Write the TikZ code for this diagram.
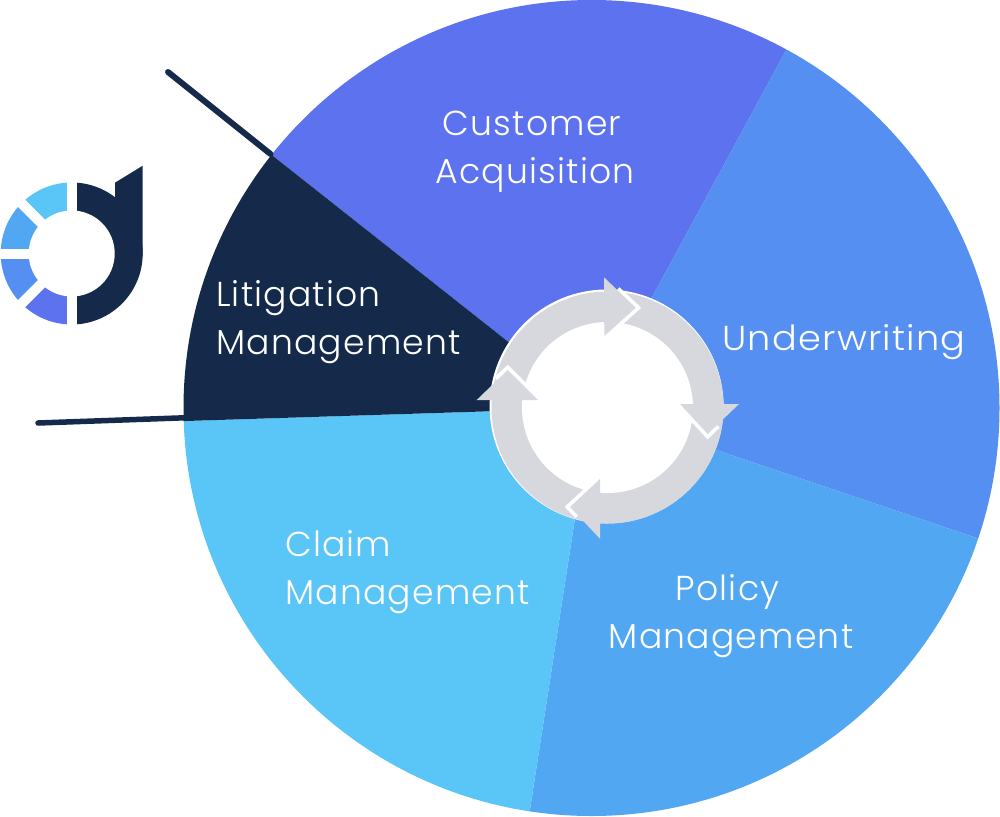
\documentclass[tikz,border=0pt]{standalone}
\usepackage{fontspec}
\newfontfamily\labfont[LetterSpace=3.5]{Poppins Light}
\definecolor{cA}{HTML}{5D72EE}
\definecolor{cB}{HTML}{548FF1}
\definecolor{cC}{HTML}{52A7F2}
\definecolor{cD}{HTML}{5AC5F7}
\definecolor{cE}{HTML}{152A4B}
\definecolor{ringc}{HTML}{D7D8DD}
\tikzset{
  lab/.style={text=white,font=\labfont\fontsize{34.6}{48}\selectfont,inner sep=0pt,align=center},
  labl/.style={lab,align=left,anchor=west},
  spoke/.style={cE,line width=6pt,line cap=round},
  tipline/.style={white,line width=7.5pt,line join=miter},
  gap/.style={white,line width=10pt}
}
\begin{document}
\begin{tikzpicture}[x=1pt,y=-1pt]
\useasboundingbox (0,0) rectangle (1000,816);
\fill[white] (0,0) rectangle (1000,816);
% coordinates
\coordinate (hub) at (592,408);
\coordinate (ea) at (150,58.8);
\coordinate (eb) at (835,-40);
\coordinate (ec) at (1100,579.6);
\coordinate (ed) at (516,900);
\coordinate (ee) at (80,424.4);
% pie
\begin{scope}
\clip (591.5,408) circle[radius=408];
\fill[cA] (hub) -- (ea) -- (-100,-100) -- (1100,-100) -- (eb) -- cycle;
\fill[cB] (hub) -- (eb) -- (1100,-100) -- (1100,900) -- (ec) -- cycle;
\fill[cC] (hub) -- (ec) -- (1100,900) -- (ed) -- cycle;
\fill[cD] (hub) -- (ed) -- (-100,900) -- (ee) -- cycle;
\fill[cE] (hub) -- (ee) -- (-100,424.4) -- (-100,-100) -- (ea) -- cycle;
\end{scope}
% spokes
\coordinate (sa) at (168,72);
\coordinate (sa2) at (270.5,154);
\coordinate (sb) at (38,423);
\coordinate (sb2) at (184,417.8);
\draw[spoke] (sa) -- (sa2);
\draw[spoke,line width=5.5pt] (sb) -- (sb2);
% ring
\fill[white] (606.6,406.5) circle[radius=117];
\fill[ringc] (607.5,407.5) circle[radius=116];
\fill[white] (607.5,407.5) circle[radius=85.5];
% arrow heads
\draw[tipline] (617,290) -- (635.7,307.7) -- (604.3,336);
\draw[tipline] (717,425) -- (707.7,434) -- (680,404);
\draw[tipline] (578,515.5) -- (570,507) -- (600,479);
\draw[tipline] (497,380) -- (507.7,370) -- (538,400);
\fill[ringc] (604,277.3) -- (635.7,307.7) -- (604.3,336) -- cycle;
\fill[ringc] (739,404) -- (707.7,434) -- (680,404) -- cycle;
\fill[ringc] (600,479) -- (570,507) -- (600,538.7) -- cycle;
\fill[ringc] (507.7,370) -- (476.7,400) -- (538,400) -- cycle;
% labels
\node[lab] (n1) at (535,151.5) {\hspace*{-6pt}Customer\\Acquisition};
\node[lab,xscale=1.06,transform shape] (n2) at (844,342.5) {Underwriting};
\node[lab] (n3) at (731,616.5) {\hspace*{-7pt}Policy\\Management};
\node[labl] (n4) at (285,572) {Claim\\Management};
\node[labl] (n5) at (216,322) {Litigation\\Management};
% logo
\begin{scope}
\clip (71.7,253.5) circle[radius=71];
\fill[cD] (71.7,253.5) -- (0,182) -- (71.7,170) -- cycle;
\fill[cC] (71.7,253.5) -- (-10,253.5) -- (-10,172) -- cycle;
\fill[cB] (71.7,253.5) -- (-10,253.5) -- (-10,335) -- cycle;
\fill[cA] (71.7,253.5) -- (-10,335) -- (71.7,335) -- cycle;
\fill[cE] (76.7,170) rectangle (150,335);
\end{scope}
\fill[cE] (115,197) -- (115,182.7) -- (142.7,165.7) -- (142.7,256) -- (115,256) -- cycle;
\fill[white] (71.7,253.5) circle[radius=43];
\draw[gap] (71.7,175) -- (71.7,332);
\draw[gap] (71.7,253.5) -- (-5,253.5);
\draw[gap] (71.7,253.5) -- (5,186.8);
\draw[gap] (71.7,253.5) -- (5,320.2);
\end{tikzpicture}
\end{document}
